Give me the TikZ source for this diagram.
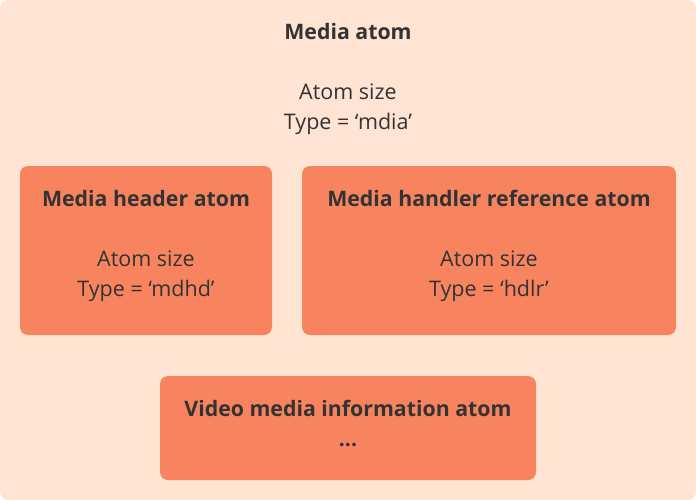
\documentclass[tikz,border=0pt]{standalone}
\usepackage{fontspec}
\setmainfont{Open Sans}
\definecolor{outerbg}{HTML}{FFE4D4}
\definecolor{boxbg}{HTML}{F7845F}
\definecolor{txt}{HTML}{333333}
\begin{document}
\begin{tikzpicture}[x=1pt,y=-1pt,
  box/.style={fill=boxbg,rounded corners=8pt},
  title/.style={text=txt,font=\fontsize{21.3}{24}\selectfont\bfseries,inner sep=0pt,anchor=base},
  body/.style={text=txt,font=\fontsize{21.5}{24}\selectfont,inner sep=0pt,anchor=base}]
\useasboundingbox (0,0) rectangle (696,500);
\fill[outerbg,rounded corners=8pt] (0,0) rectangle (696,500);
\node[title] (mt) at (348,40) {Media atom};
\node[body] (ms) at (348,100) {Atom size};
\node[body] (mty) at (348,130) {Type = ‘mdia’};
\path[box] (20,166) rectangle (272,335);
\path[box] (302,166) rectangle (676,335);
\path[box] (160,376) rectangle (536,480);
\node[title] (h1) at (146,206) {Media header atom};
\node[body] (h1s) at (146,266) {Atom size};
\node[body] (h1t) at (146,296) {Type = ‘mdhd’};
\node[title] (h2) at (489,206) {Media handler reference atom};
\node[body] (h2s) at (489,266) {Atom size};
\node[body] (h2t) at (489,296) {Type = ‘hdlr’};
\node[title] (v) at (348,416) {Video media information atom};
\node[title] (vd) at (348,446) {...};
\end{tikzpicture}
\end{document}
